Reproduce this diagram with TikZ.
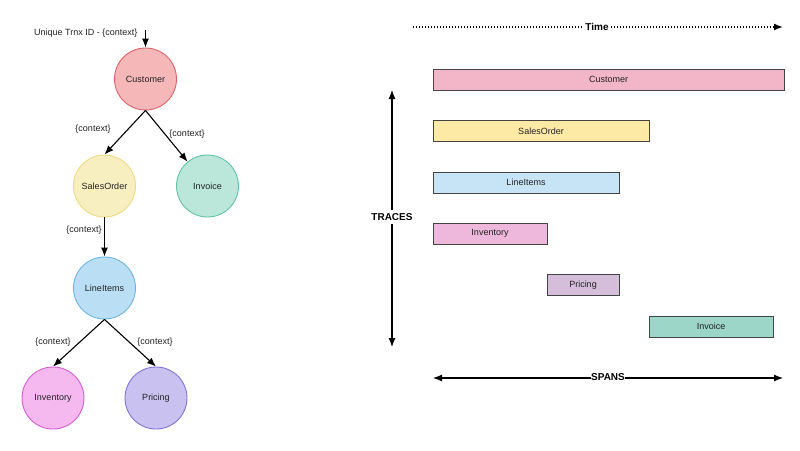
\documentclass[tikz,border=0pt]{standalone}
\usepackage{fontspec}
\setmainfont{Liberation Sans}
\usetikzlibrary{arrows.meta}
\definecolor{custF}{HTML}{F5B7B8}\definecolor{custD}{HTML}{D9636A}
\definecolor{soF}{HTML}{F7EFC0}\definecolor{soD}{HTML}{EEDA85}
\definecolor{invF}{HTML}{BAE7D9}\definecolor{invD}{HTML}{60C4A2}
\definecolor{liF}{HTML}{BADFF5}\definecolor{liD}{HTML}{6CB6DE}
\definecolor{inF}{HTML}{F5B9F0}\definecolor{inD}{HTML}{D35ED0}
\definecolor{prF}{HTML}{C9C2F0}\definecolor{prD}{HTML}{8373D6}
\definecolor{bCust}{HTML}{F3B5C8}\definecolor{bSO}{HTML}{FDEBA5}
\definecolor{bLI}{HTML}{C6E4F5}\definecolor{bIn}{HTML}{EDB8DC}
\definecolor{bPr}{HTML}{D5BEDA}\definecolor{bIv}{HTML}{9CD6C9}
\definecolor{bBorder}{HTML}{444444}
\definecolor{txt}{HTML}{222222}
\tikzset{
  tip/.tip={Latex[length=9pt,width=7pt]},
  svc/.style={circle, minimum size=62pt, inner sep=0pt, line width=0.9pt, font=\fontsize{9}{10}\selectfont, text=txt},
  bar/.style={rectangle, minimum height=21pt, inner sep=0pt, draw=bBorder, line width=1pt, font=\fontsize{9}{10}\selectfont, text=txt},
  arr/.style={line width=1.1pt, -tip},
  ctx/.style={font=\fontsize{9}{10}\selectfont, text=txt, inner sep=1pt},
  axlabel/.style={font=\bfseries\fontsize{10}{11}\selectfont, fill=white, inner sep=1pt}
}
\begin{document}
\begin{tikzpicture}[x=1pt,y=-1pt]
\useasboundingbox (0,0) rectangle (800,450);
% tree
\node[svc, fill=custF, draw=custD] (cust) at (145.5,79) {Customer};
\node[svc, fill=soF, draw=soD] (so) at (104.5,186) {SalesOrder};
\node[svc, fill=invF, draw=invD] (inv) at (207.5,186) {Invoice};
\node[svc, fill=liF, draw=liD] (li) at (104.5,288) {LineItems};
\node[svc, fill=inF, draw=inD] (invt) at (53,398) {Inventory};
\node[svc, fill=prF, draw=prD] (pr) at (156,398) {Pricing};
\node[ctx, anchor=east, inner sep=0pt] (uid) at (137.5,33) {Unique Trnx ID - \{context\}};
\coordinate (src) at (145.5,30);
\draw[arr] (src) -- (cust.north);
\draw[arr] (cust.south) -- (so.north);
\draw[arr] (cust.south) -- (inv);
\draw[arr] (so.south) -- (li.north);
\draw[arr] (li.south) -- (invt.north);
\draw[arr] (li.south) -- (pr.north);
\node[ctx] (c1) at (93,129) {\{context\}};
\node[ctx] (c2) at (187,134) {\{context\}};
\node[ctx] (c3) at (84,230) {\{context\}};
\node[ctx] (c4) at (53,342) {\{context\}};
\node[ctx] (c5) at (155,342) {\{context\}};
% timeline
\coordinate (t0) at (413,27);
\coordinate (t1) at (783,27);
\draw[line width=1.4pt, dash pattern=on 1.4pt off 1.6pt, -tip] (t0) -- (t1);
\node[axlabel] (time) at (597,26.5) {Time};
\node[bar, fill=bCust, minimum width=351pt] (bcust) at (608.5,79.5) {Customer};
\node[bar, fill=bSO, minimum width=216pt] (bso) at (541,131) {SalesOrder};
\node[bar, fill=bLI, minimum width=186pt] (bli) at (526,182.5) {LineItems};
\node[bar, fill=bIn, minimum width=114pt] (bin) at (490,233.5) {Inventory};
\node[bar, fill=bPr, minimum width=72pt] (bpr) at (583,285) {Pricing};
\node[bar, fill=bIv, minimum width=124pt] (biv) at (711,326.5) {Invoice};
\coordinate (tr0) at (392,90);
\coordinate (tr1) at (392,347);
\draw[line width=1.1pt, tip-tip] (tr0) -- (tr1);
\node[axlabel, inner ysep=3pt] (traces) at (392,217) {TRACES};
\coordinate (s0) at (433,378);
\coordinate (s1) at (783,378);
\draw[line width=1.1pt, tip-tip] (s0) -- (s1);
\node[axlabel, inner sep=0.5pt] (spans) at (608,377) {SPANS};
\end{tikzpicture}
\end{document}
